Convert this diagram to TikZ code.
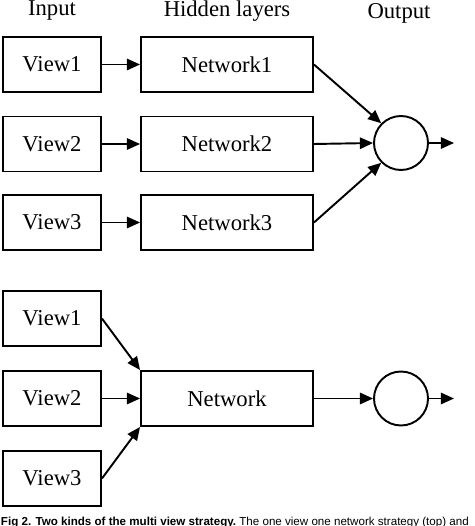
\documentclass[tikz,border=0pt]{standalone}
\usepackage{fontspec}
\setmainfont{Liberation Serif}
\newfontfamily\capfont{Liberation Sans}
\usetikzlibrary{arrows.meta}
\tikzset{
  view/.style={draw, minimum width=1.96cm, minimum height=1.1cm, inner sep=0pt},
  net/.style={draw, minimum width=3.44cm, minimum height=1.1cm, inner sep=0pt},
  unit/.style={draw, circle, minimum size=1.08cm, inner sep=0pt},
}
\begin{document}
\begin{tikzpicture}[x=0.02cm, y=-0.02cm, line width=1.1pt,
  >={Triangle[length=7.5pt,width=6.5pt]},
  font=\fontsize{12.9}{15}\selectfont]
\useasboundingbox (0,0) rectangle (474,526);
\clip (0,0) rectangle (474,526);

\node[anchor=base] (hin)  at (52,16)  {Input};
\node[anchor=base] (hhid) at (227,17) {Hidden layers};
\node[anchor=base] (hout) at (399,19) {Output};

\node[view] (a1) at (52,64.5)  {View1};
\node[view] (a2) at (52,144)   {View2};
\node[view] (a3) at (52,222.5) {View3};
\node[net]  (n1) at (227,64.5)  {Network1};
\node[net]  (n2) at (227,144)   {Network2};
\node[net]  (n3) at (227,222.5) {Network3};
\node[unit] (o1) at (401,143) {};
\coordinate (e1) at (454,143);

\draw[->] (a1) -- (n1);
\draw[->] (a2) -- (n2);
\draw[->] (a3) -- (n3);
\draw[->] (n1.east) -- (o1.135);
\draw[->] (n2.east) -- (o1.west);
\draw[->] (n3.east) -- (o1.225);
\draw[->] (o1.east) -- (e1);

\node[view] (b1) at (52,318.5) {View1};
\node[view] (b2) at (52,398.5) {View2};
\node[view] (b3) at (52,478.5) {View3};
\node[net]  (n4) at (227,398.5) {Network};
\node[unit] (o2) at (401,398.5) {};
\coordinate (e2) at (454,398.5);

\draw[->] (b1.east) -- (n4.north west);
\draw[->] (b2) -- (n4);
\draw[->] (b3.east) -- (n4.south west);
\draw[->] (n4) -- (o2);
\draw[->] (o2.east) -- (e2);

\node[anchor=base west, inner sep=0pt, font=\capfont\fontsize{6.6}{8}\selectfont] (cap) at (0,525.5)
  {\bfseries Fig 2. Two kinds of the multi view strategy.\ \mdseries The one view one network strategy (top) and};
\end{tikzpicture}
\end{document}
